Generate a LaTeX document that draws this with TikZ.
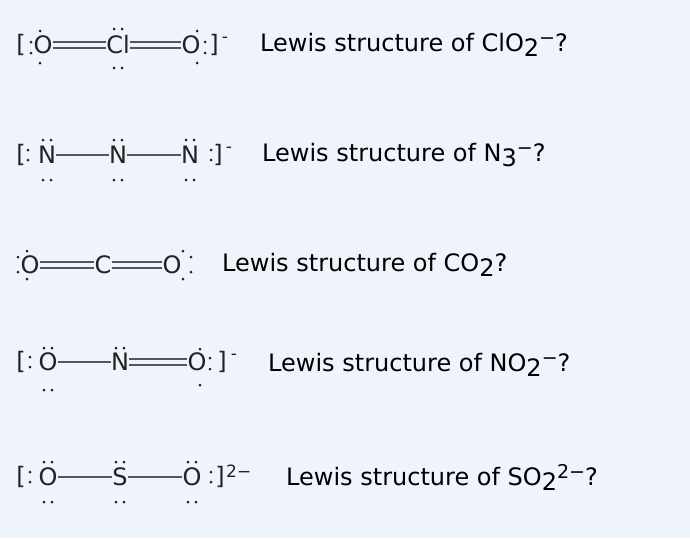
\documentclass[tikz,border=0pt]{standalone}
\usepackage{fontspec}
\setmainfont{DejaVu Sans}
\definecolor{bg}{HTML}{EEF3FC}
\definecolor{ink}{HTML}{222222}
\definecolor{bond}{HTML}{555555}
\newcommand{\sbs}[1]{\raisebox{-5pt}{#1}}
\newcommand{\sps}[1]{\raisebox{7pt}{\fontsize{19}{22}\selectfont #1}}
\begin{document}
\begin{tikzpicture}[x=1pt,y=-1pt,
  atom/.style={inner sep=0pt,font=\fontsize{24}{28}\selectfont,text=ink},
  lbl/.style={inner sep=0pt,anchor=west,font=\fontsize{24}{28}\selectfont,text=black},
  chg/.style={inner sep=0pt,font=\fontsize{17}{20}\selectfont,text=ink},
  bl/.style={draw=bond,line width=1.2pt}]
\fill[bg] (0,0) rectangle (690,538);
\useasboundingbox (0,0) rectangle (690,538);
\newcommand{\dd}[2]{\fill[ink] (#1,#2) circle (1.5);}
% row 1 ClO2-
\node[atom] (b1) at (21,45) {[};
\node[atom] (o1) at (43,45) {O};
\node[atom] (cl1) at (118,45) {Cl};
\node[atom] (o2) at (191,45) {O};
\node[atom] (e1) at (214,45) {]};
\node[chg] (c1) at (225,40) {-};
\draw[bl] ([yshift=-3]o1.east) -- ([yshift=-3]cl1.west);
\draw[bl] ([yshift=3]o1.east) -- ([yshift=3]cl1.west);
\draw[bl] ([yshift=-3]cl1.east) -- ([yshift=-3]o2.west);
\draw[bl] ([yshift=3]cl1.east) -- ([yshift=3]o2.west);
\dd{40}{31}\dd{31}{42}\dd{31}{53}\dd{40}{63}
\dd{114}{29}\dd{122}{29}\dd{114}{68}\dd{122}{68}
\dd{197}{31}\dd{205}{42}\dd{205}{53}\dd{197}{63}
\node[lbl] (t1) at (260,45) {Lewis structure of ClO\sbs{2}\sps{−}?};
% row 2 N3-
\node[atom] (b2) at (21,155) {[};
\node[atom] (n1) at (47,155) {N};
\node[atom] (n2) at (118,155) {N};
\node[atom] (n3) at (190,155) {N};
\node[atom] (e2) at (218,155) {]};
\node[chg] (c2) at (229,150) {-};
\draw[bl] (n1.east) -- (n2.west);
\draw[bl] (n2.east) -- (n3.west);
\dd{28}{150}\dd{28}{160}\dd{43}{140}\dd{51}{140}\dd{43}{180}\dd{51}{180}
\dd{114}{140}\dd{122}{140}\dd{114}{180}\dd{122}{180}
\dd{186}{140}\dd{194}{140}\dd{186}{180}\dd{194}{180}
\dd{211}{150}\dd{211}{160}
\node[lbl] (t2) at (262,155) {Lewis structure of N\sbs{3}\sps{−}?};
% row 3 CO2
\node[atom] (o3) at (30,265) {O};
\node[atom] (cc) at (103,265) {C};
\node[atom] (o4) at (172,265) {O};
\draw[bl] ([yshift=-3]o3.east) -- ([yshift=-3]cc.west);
\draw[bl] ([yshift=3]o3.east) -- ([yshift=3]cc.west);
\draw[bl] ([yshift=-3]cc.east) -- ([yshift=-3]o4.west);
\draw[bl] ([yshift=3]cc.east) -- ([yshift=3]o4.west);
\dd{27}{251}\dd{18}{257}\dd{18}{272}\dd{27}{279}
\dd{183}{251}\dd{191}{257}\dd{191}{272}\dd{183}{279}
\node[lbl] (t3) at (222,265) {Lewis structure of CO\sbs{2}?};
% row 4 NO2-
\node[atom] (b4) at (21,362) {[};
\node[atom] (o5) at (48,362) {O};
\node[atom] (n4) at (120,362) {N};
\node[atom] (o6) at (197,362) {O};
\node[atom] (e4) at (222,362) {]};
\node[chg] (c4) at (234,357) {-};
\draw[bl] (o5.east) -- (n4.west);
\draw[bl] ([yshift=-3]n4.east) -- ([yshift=-3]o6.west);
\draw[bl] ([yshift=3]n4.east) -- ([yshift=3]o6.west);
\dd{30}{357}\dd{30}{367}\dd{44}{348}\dd{52}{348}\dd{44}{390}\dd{52}{390}
\dd{116}{348}\dd{124}{348}
\dd{200}{349}\dd{210}{358}\dd{210}{369}\dd{200}{385}
\node[lbl] (t4) at (268,365) {Lewis structure of NO\sbs{2}\sps{−}?};
% row 5 SO2 2-
\node[atom] (b5) at (21,477) {[};
\node[atom] (o7) at (48,477) {O};
\node[atom] (s1) at (120,477) {S};
\node[atom] (o8) at (192,477) {O};
\node[atom] (e5) at (220,477) {]};
\node[chg,anchor=west] (c5) at (226,471) {2−};
\draw[bl] (o7.east) -- (s1.west);
\draw[bl] (s1.east) -- (o8.west);
\dd{30}{472}\dd{30}{482}\dd{44}{462}\dd{52}{462}\dd{44}{502}\dd{52}{502}
\dd{116}{462}\dd{124}{462}\dd{116}{502}\dd{124}{502}
\dd{188}{462}\dd{196}{462}\dd{188}{502}\dd{196}{502}
\dd{211}{472}\dd{211}{482}
\node[lbl] (t5) at (286,477) {Lewis structure of SO\sbs{2}\sps{2−}?};
\end{tikzpicture}
\end{document}
